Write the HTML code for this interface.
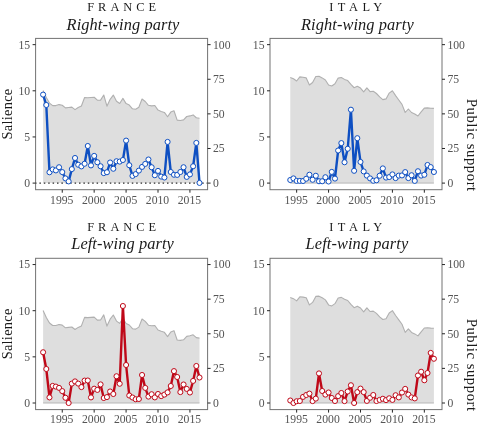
<!DOCTYPE html>
<html lang="en">
<head>
<meta charset="utf-8">
<title>Salience and public support</title>
<style>
html,body{margin:0;padding:0;background:#fff;}
body{width:480px;height:426px;overflow:hidden;font-family:"Liberation Serif",serif;}
svg{display:block;}
</style>
</head>
<body>
<svg width="480" height="426" viewBox="0 0 480 426" font-family="'Liberation Serif', serif">
<rect width="480" height="426" fill="#fff"/>
<g transform="translate(0,0)">
<polygon points="43.1,183.1 43.1,90.6 46.29,97.5 49.48,103.1 52.68,105.6 55.87,105.6 59.06,104.6 62.25,105.25 65.44,107.9 68.64,107.5 71.83,107.1 75.02,109.6 78.21,107.5 81.4,106 84.6,97.5 87.79,97.75 90.98,97.5 94.17,97.25 97.36,100.2 100.56,100.1 103.75,95 106.94,106.2 110.13,99.3 113.32,95.1 116.52,101.2 119.71,103.45 122.9,98.4 126.09,103.6 129.28,105.1 132.48,108.8 135.67,109.2 138.86,107.25 142.05,99.05 145.24,101.5 148.44,105.3 151.63,105.9 154.82,105.55 158.01,110.1 161.2,111.4 164.4,112.4 167.59,116.75 170.78,112.1 173.97,110.75 177.16,120.1 180.36,120.5 183.55,119.9 186.74,116.5 189.93,115.9 193.12,114.9 196.32,117.75 199.51,118.25 199.51,183.1" fill="#dedede"/>
<polyline points="43.1,90.6 46.29,97.5 49.48,103.1 52.68,105.6 55.87,105.6 59.06,104.6 62.25,105.25 65.44,107.9 68.64,107.5 71.83,107.1 75.02,109.6 78.21,107.5 81.4,106 84.6,97.5 87.79,97.75 90.98,97.5 94.17,97.25 97.36,100.2 100.56,100.1 103.75,95 106.94,106.2 110.13,99.3 113.32,95.1 116.52,101.2 119.71,103.45 122.9,98.4 126.09,103.6 129.28,105.1 132.48,108.8 135.67,109.2 138.86,107.25 142.05,99.05 145.24,101.5 148.44,105.3 151.63,105.9 154.82,105.55 158.01,110.1 161.2,111.4 164.4,112.4 167.59,116.75 170.78,112.1 173.97,110.75 177.16,120.1 180.36,120.5 183.55,119.9 186.74,116.5 189.93,115.9 193.12,114.9 196.32,117.75 199.51,118.25" fill="none" stroke="#b0b0b0" stroke-width="1.1" stroke-linejoin="round"/>
<line x1="35" x2="207.6" y1="183.1" y2="183.1" stroke="#2a2a2a" stroke-width="1.25" stroke-dasharray="1.5 2.9"/>
<polyline points="43.1,94.6 46.29,105 49.48,172.25 52.68,169.4 55.87,170.4 59.06,167.25 62.25,172.1 65.44,178.4 68.64,181.4 71.83,169.1 75.02,158 78.21,164.75 81.4,166.4 84.6,163.75 87.79,146 90.98,165.4 94.17,155.9 97.36,162.25 100.56,166.25 103.75,173.1 106.94,172.25 110.13,162.5 113.32,168.75 116.52,161.25 119.71,161.6 122.9,160 126.09,140.6 129.28,165.25 132.48,175.9 135.67,174.1 138.86,170.6 142.05,166.9 145.24,163.9 148.44,159.5 151.63,167.25 154.82,175.25 158.01,170.9 161.2,176.6 164.4,177.5 167.59,141.9 170.78,172 173.97,174.75 177.16,174.9 180.36,172 183.55,167.25 186.74,176.9 189.93,174.4 193.12,166.25 196.32,142.9 199.51,182.9" fill="none" stroke="#0e4fc2" stroke-width="2.4" stroke-linejoin="round" stroke-linecap="round"/>
<g fill="#fff" stroke="#0e4fc2" stroke-width="1">
<circle cx="43.1" cy="94.6" r="2.55"/>
<circle cx="46.29" cy="105" r="2.55"/>
<circle cx="49.48" cy="172.25" r="2.55"/>
<circle cx="52.68" cy="169.4" r="2.55"/>
<circle cx="55.87" cy="170.4" r="2.55"/>
<circle cx="59.06" cy="167.25" r="2.55"/>
<circle cx="62.25" cy="172.1" r="2.55"/>
<circle cx="65.44" cy="178.4" r="2.55"/>
<circle cx="68.64" cy="181.4" r="2.55"/>
<circle cx="71.83" cy="169.1" r="2.55"/>
<circle cx="75.02" cy="158" r="2.55"/>
<circle cx="78.21" cy="164.75" r="2.55"/>
<circle cx="81.4" cy="166.4" r="2.55"/>
<circle cx="84.6" cy="163.75" r="2.55"/>
<circle cx="87.79" cy="146" r="2.55"/>
<circle cx="90.98" cy="165.4" r="2.55"/>
<circle cx="94.17" cy="155.9" r="2.55"/>
<circle cx="97.36" cy="162.25" r="2.55"/>
<circle cx="100.56" cy="166.25" r="2.55"/>
<circle cx="103.75" cy="173.1" r="2.55"/>
<circle cx="106.94" cy="172.25" r="2.55"/>
<circle cx="110.13" cy="162.5" r="2.55"/>
<circle cx="113.32" cy="168.75" r="2.55"/>
<circle cx="116.52" cy="161.25" r="2.55"/>
<circle cx="119.71" cy="161.6" r="2.55"/>
<circle cx="122.9" cy="160" r="2.55"/>
<circle cx="126.09" cy="140.6" r="2.55"/>
<circle cx="129.28" cy="165.25" r="2.55"/>
<circle cx="132.48" cy="175.9" r="2.55"/>
<circle cx="135.67" cy="174.1" r="2.55"/>
<circle cx="138.86" cy="170.6" r="2.55"/>
<circle cx="142.05" cy="166.9" r="2.55"/>
<circle cx="145.24" cy="163.9" r="2.55"/>
<circle cx="148.44" cy="159.5" r="2.55"/>
<circle cx="151.63" cy="167.25" r="2.55"/>
<circle cx="154.82" cy="175.25" r="2.55"/>
<circle cx="158.01" cy="170.9" r="2.55"/>
<circle cx="161.2" cy="176.6" r="2.55"/>
<circle cx="164.4" cy="177.5" r="2.55"/>
<circle cx="167.59" cy="141.9" r="2.55"/>
<circle cx="170.78" cy="172" r="2.55"/>
<circle cx="173.97" cy="174.75" r="2.55"/>
<circle cx="177.16" cy="174.9" r="2.55"/>
<circle cx="180.36" cy="172" r="2.55"/>
<circle cx="183.55" cy="167.25" r="2.55"/>
<circle cx="186.74" cy="176.9" r="2.55"/>
<circle cx="189.93" cy="174.4" r="2.55"/>
<circle cx="193.12" cy="166.25" r="2.55"/>
<circle cx="196.32" cy="142.9" r="2.55"/>
<circle cx="199.51" cy="182.9" r="2.55"/>
</g>
<rect x="35.6" y="38.4" width="172" height="151.3" fill="none" stroke="#727272" stroke-width="1"/>
<g stroke="#262626" stroke-width="1">
<line x1="32.6" x2="35.6" y1="183.1" y2="183.1"/>
<line x1="32.6" x2="35.6" y1="136.95" y2="136.95"/>
<line x1="32.6" x2="35.6" y1="90.8" y2="90.8"/>
<line x1="32.6" x2="35.6" y1="44.65" y2="44.65"/>
<line x1="207.6" x2="210.6" y1="183.1" y2="183.1"/>
<line x1="207.6" x2="210.6" y1="148.49" y2="148.49"/>
<line x1="207.6" x2="210.6" y1="113.87" y2="113.87"/>
<line x1="207.6" x2="210.6" y1="79.26" y2="79.26"/>
<line x1="207.6" x2="210.6" y1="44.65" y2="44.65"/>
<line x1="62.25" x2="62.25" y1="189.7" y2="192.7"/>
<line x1="94.17" x2="94.17" y1="189.7" y2="192.7"/>
<line x1="126.09" x2="126.09" y1="189.7" y2="192.7"/>
<line x1="158.01" x2="158.01" y1="189.7" y2="192.7"/>
<line x1="189.93" x2="189.93" y1="189.7" y2="192.7"/>
</g>
<g fill="#555555" font-size="11.7">
<text x="30.1" y="187.05" text-anchor="end">0</text>
<text x="30.1" y="140.9" text-anchor="end">5</text>
<text x="30.1" y="94.75" text-anchor="end">10</text>
<text x="30.1" y="48.6" text-anchor="end">15</text>
<text x="213" y="187.05">0</text>
<text x="213" y="152.44">25</text>
<text x="213" y="117.82">50</text>
<text x="213" y="83.21">75</text>
<text x="213" y="48.6">100</text>
<text x="61.75" y="203.5" text-anchor="middle">1995</text>
<text x="93.67" y="203.5" text-anchor="middle">2000</text>
<text x="125.59" y="203.5" text-anchor="middle">2005</text>
<text x="157.51" y="203.5" text-anchor="middle">2010</text>
<text x="189.43" y="203.5" text-anchor="middle">2015</text>
</g>
<text x="87.2" y="10.8" font-size="12.4" fill="#1a1a1a" letter-spacing="4.02">FRANCE</text>
<text x="66.6" y="29.5" font-size="16.4" font-style="italic" fill="#1a1a1a" letter-spacing="0.08">Right-wing party</text>
<text transform="translate(12.4,139.4) rotate(-90)" font-size="14.4" fill="#1a1a1a" letter-spacing="0.26">Salience</text>
</g>
<g transform="translate(234.4,0)">
<polygon points="55.87,183.1 55.87,77.5 59.06,78.75 62.25,81 65.44,76.9 68.64,77.25 71.83,77.9 75.02,85 78.21,82.5 81.4,76.5 84.6,76.25 87.79,77.9 90.98,80 94.17,85 97.36,86 100.56,83.75 103.75,78.1 106.94,77.5 110.13,79.4 113.32,80.6 116.52,84.4 119.71,87.75 122.9,86.25 126.09,88.1 129.28,91.9 132.48,87.9 135.67,91.6 138.86,91.25 142.05,93.5 145.24,96.9 148.44,99.6 151.63,98.9 154.82,93.1 158.01,90.75 161.2,95.6 164.4,100 167.59,104.4 170.78,112.5 173.97,109 177.16,112.5 180.36,114 183.55,116 186.74,111.9 189.93,108.1 193.12,107.9 196.32,108.25 199.51,108.4 199.51,183.1" fill="#dedede"/>
<polyline points="55.87,77.5 59.06,78.75 62.25,81 65.44,76.9 68.64,77.25 71.83,77.9 75.02,85 78.21,82.5 81.4,76.5 84.6,76.25 87.79,77.9 90.98,80 94.17,85 97.36,86 100.56,83.75 103.75,78.1 106.94,77.5 110.13,79.4 113.32,80.6 116.52,84.4 119.71,87.75 122.9,86.25 126.09,88.1 129.28,91.9 132.48,87.9 135.67,91.6 138.86,91.25 142.05,93.5 145.24,96.9 148.44,99.6 151.63,98.9 154.82,93.1 158.01,90.75 161.2,95.6 164.4,100 167.59,104.4 170.78,112.5 173.97,109 177.16,112.5 180.36,114 183.55,116 186.74,111.9 189.93,108.1 193.12,107.9 196.32,108.25 199.51,108.4" fill="none" stroke="#b0b0b0" stroke-width="1.1" stroke-linejoin="round"/>
<line x1="55.87" x2="199.51" y1="183.1" y2="183.1" stroke="#b0b0b0" stroke-width="0.9"/>
<polyline points="55.87,180 59.06,178.4 62.25,180.9 65.44,180.9 68.64,181 71.83,178.75 75.02,174.75 78.21,179.75 81.4,175.75 84.6,181.25 87.79,181.25 90.98,177.25 94.17,181.5 97.36,171.9 100.56,178.6 103.75,150.5 106.94,143.1 110.13,162.25 113.32,148.75 116.52,109.7 119.71,170.8 122.9,138.2 126.09,161.95 129.28,171.4 132.48,175.6 135.67,178.4 138.86,180.75 142.05,180.25 145.24,175.75 148.44,168.4 151.63,177.6 154.82,177.05 158.01,174.4 161.2,178.1 164.4,175.6 167.59,175.4 170.78,172.1 173.97,178.1 177.16,175.25 180.36,180.9 183.55,171.25 186.74,175.6 189.93,174.75 193.12,165 196.32,167.1 199.51,172" fill="none" stroke="#0e4fc2" stroke-width="2.4" stroke-linejoin="round" stroke-linecap="round"/>
<g fill="#fff" stroke="#0e4fc2" stroke-width="1">
<circle cx="55.87" cy="180" r="2.55"/>
<circle cx="59.06" cy="178.4" r="2.55"/>
<circle cx="62.25" cy="180.9" r="2.55"/>
<circle cx="65.44" cy="180.9" r="2.55"/>
<circle cx="68.64" cy="181" r="2.55"/>
<circle cx="71.83" cy="178.75" r="2.55"/>
<circle cx="75.02" cy="174.75" r="2.55"/>
<circle cx="78.21" cy="179.75" r="2.55"/>
<circle cx="81.4" cy="175.75" r="2.55"/>
<circle cx="84.6" cy="181.25" r="2.55"/>
<circle cx="87.79" cy="181.25" r="2.55"/>
<circle cx="90.98" cy="177.25" r="2.55"/>
<circle cx="94.17" cy="181.5" r="2.55"/>
<circle cx="97.36" cy="171.9" r="2.55"/>
<circle cx="100.56" cy="178.6" r="2.55"/>
<circle cx="103.75" cy="150.5" r="2.55"/>
<circle cx="106.94" cy="143.1" r="2.55"/>
<circle cx="110.13" cy="162.25" r="2.55"/>
<circle cx="113.32" cy="148.75" r="2.55"/>
<circle cx="116.52" cy="109.7" r="2.55"/>
<circle cx="119.71" cy="170.8" r="2.55"/>
<circle cx="122.9" cy="138.2" r="2.55"/>
<circle cx="126.09" cy="161.95" r="2.55"/>
<circle cx="129.28" cy="171.4" r="2.55"/>
<circle cx="132.48" cy="175.6" r="2.55"/>
<circle cx="135.67" cy="178.4" r="2.55"/>
<circle cx="138.86" cy="180.75" r="2.55"/>
<circle cx="142.05" cy="180.25" r="2.55"/>
<circle cx="145.24" cy="175.75" r="2.55"/>
<circle cx="148.44" cy="168.4" r="2.55"/>
<circle cx="151.63" cy="177.6" r="2.55"/>
<circle cx="154.82" cy="177.05" r="2.55"/>
<circle cx="158.01" cy="174.4" r="2.55"/>
<circle cx="161.2" cy="178.1" r="2.55"/>
<circle cx="164.4" cy="175.6" r="2.55"/>
<circle cx="167.59" cy="175.4" r="2.55"/>
<circle cx="170.78" cy="172.1" r="2.55"/>
<circle cx="173.97" cy="178.1" r="2.55"/>
<circle cx="177.16" cy="175.25" r="2.55"/>
<circle cx="180.36" cy="180.9" r="2.55"/>
<circle cx="183.55" cy="171.25" r="2.55"/>
<circle cx="186.74" cy="175.6" r="2.55"/>
<circle cx="189.93" cy="174.75" r="2.55"/>
<circle cx="193.12" cy="165" r="2.55"/>
<circle cx="196.32" cy="167.1" r="2.55"/>
<circle cx="199.51" cy="172" r="2.55"/>
</g>
<rect x="35.6" y="38.4" width="172" height="151.3" fill="none" stroke="#727272" stroke-width="1"/>
<g stroke="#262626" stroke-width="1">
<line x1="32.6" x2="35.6" y1="183.1" y2="183.1"/>
<line x1="32.6" x2="35.6" y1="136.95" y2="136.95"/>
<line x1="32.6" x2="35.6" y1="90.8" y2="90.8"/>
<line x1="32.6" x2="35.6" y1="44.65" y2="44.65"/>
<line x1="207.6" x2="210.6" y1="183.1" y2="183.1"/>
<line x1="207.6" x2="210.6" y1="148.49" y2="148.49"/>
<line x1="207.6" x2="210.6" y1="113.87" y2="113.87"/>
<line x1="207.6" x2="210.6" y1="79.26" y2="79.26"/>
<line x1="207.6" x2="210.6" y1="44.65" y2="44.65"/>
<line x1="62.25" x2="62.25" y1="189.7" y2="192.7"/>
<line x1="94.17" x2="94.17" y1="189.7" y2="192.7"/>
<line x1="126.09" x2="126.09" y1="189.7" y2="192.7"/>
<line x1="158.01" x2="158.01" y1="189.7" y2="192.7"/>
<line x1="189.93" x2="189.93" y1="189.7" y2="192.7"/>
</g>
<g fill="#555555" font-size="11.7">
<text x="30.1" y="187.05" text-anchor="end">0</text>
<text x="30.1" y="140.9" text-anchor="end">5</text>
<text x="30.1" y="94.75" text-anchor="end">10</text>
<text x="30.1" y="48.6" text-anchor="end">15</text>
<text x="213" y="187.05">0</text>
<text x="213" y="152.44">25</text>
<text x="213" y="117.82">50</text>
<text x="213" y="83.21">75</text>
<text x="213" y="48.6">100</text>
<text x="61.75" y="203.5" text-anchor="middle">1995</text>
<text x="93.67" y="203.5" text-anchor="middle">2000</text>
<text x="125.59" y="203.5" text-anchor="middle">2005</text>
<text x="157.51" y="203.5" text-anchor="middle">2010</text>
<text x="189.43" y="203.5" text-anchor="middle">2015</text>
</g>
<text x="94.8" y="10.8" font-size="12.4" fill="#1a1a1a" letter-spacing="4.54">ITALY</text>
<text x="66.6" y="29.5" font-size="16.4" font-style="italic" fill="#1a1a1a" letter-spacing="0.08">Right-wing party</text>
<text transform="translate(232.8,98.8) rotate(90)" font-size="14.8" fill="#1a1a1a" letter-spacing="0.5">Public support</text>
</g>
<g transform="translate(0,219.9)">
<polygon points="43.1,183.1 43.1,90.6 46.29,97.5 49.48,103.1 52.68,105.6 55.87,105.6 59.06,104.6 62.25,105.25 65.44,107.9 68.64,107.5 71.83,107.1 75.02,109.6 78.21,107.5 81.4,106 84.6,97.5 87.79,97.75 90.98,97.5 94.17,97.25 97.36,100.2 100.56,100.1 103.75,95 106.94,106.2 110.13,99.3 113.32,95.1 116.52,101.2 119.71,103.45 122.9,98.4 126.09,103.6 129.28,105.1 132.48,108.8 135.67,109.2 138.86,107.25 142.05,99.05 145.24,101.5 148.44,105.3 151.63,105.9 154.82,105.55 158.01,110.1 161.2,111.4 164.4,112.4 167.59,116.75 170.78,112.1 173.97,110.75 177.16,120.1 180.36,120.5 183.55,119.9 186.74,116.5 189.93,115.9 193.12,114.9 196.32,117.75 199.51,118.25 199.51,183.1" fill="#dedede"/>
<polyline points="43.1,90.6 46.29,97.5 49.48,103.1 52.68,105.6 55.87,105.6 59.06,104.6 62.25,105.25 65.44,107.9 68.64,107.5 71.83,107.1 75.02,109.6 78.21,107.5 81.4,106 84.6,97.5 87.79,97.75 90.98,97.5 94.17,97.25 97.36,100.2 100.56,100.1 103.75,95 106.94,106.2 110.13,99.3 113.32,95.1 116.52,101.2 119.71,103.45 122.9,98.4 126.09,103.6 129.28,105.1 132.48,108.8 135.67,109.2 138.86,107.25 142.05,99.05 145.24,101.5 148.44,105.3 151.63,105.9 154.82,105.55 158.01,110.1 161.2,111.4 164.4,112.4 167.59,116.75 170.78,112.1 173.97,110.75 177.16,120.1 180.36,120.5 183.55,119.9 186.74,116.5 189.93,115.9 193.12,114.9 196.32,117.75 199.51,118.25" fill="none" stroke="#b0b0b0" stroke-width="1.1" stroke-linejoin="round"/>
<line x1="43.1" x2="199.51" y1="183.1" y2="183.1" stroke="#b0b0b0" stroke-width="0.9"/>
<polyline points="43.1,132.35 46.29,149.1 49.48,177.5 52.68,166 55.87,166.7 59.06,168 62.25,171.2 65.44,177.85 68.64,183.1 71.83,163.7 75.02,161.5 78.21,163.7 81.4,167.2 84.6,160.7 87.79,160.6 90.98,177.5 94.17,168.8 97.36,170 100.56,164.5 103.75,178.1 106.94,177.2 110.13,171.6 113.32,174.1 116.52,156.35 119.71,163.85 122.9,86.1 126.09,145.1 129.28,175.6 132.48,177.6 135.67,179.35 138.86,179.1 142.05,155.1 145.24,168 148.44,176.7 151.63,174.35 154.82,177.5 158.01,174.1 161.2,176.2 164.4,174.7 167.59,172.5 170.78,166.1 173.97,151.2 177.16,157.1 180.36,172.2 183.55,164.6 186.74,169 189.93,172.6 193.12,161 196.32,146.1 199.51,157.6" fill="none" stroke="#bf0818" stroke-width="2.4" stroke-linejoin="round" stroke-linecap="round"/>
<g fill="#fff" stroke="#bf0818" stroke-width="1">
<circle cx="43.1" cy="132.35" r="2.55"/>
<circle cx="46.29" cy="149.1" r="2.55"/>
<circle cx="49.48" cy="177.5" r="2.55"/>
<circle cx="52.68" cy="166" r="2.55"/>
<circle cx="55.87" cy="166.7" r="2.55"/>
<circle cx="59.06" cy="168" r="2.55"/>
<circle cx="62.25" cy="171.2" r="2.55"/>
<circle cx="65.44" cy="177.85" r="2.55"/>
<circle cx="68.64" cy="183.1" r="2.55"/>
<circle cx="71.83" cy="163.7" r="2.55"/>
<circle cx="75.02" cy="161.5" r="2.55"/>
<circle cx="78.21" cy="163.7" r="2.55"/>
<circle cx="81.4" cy="167.2" r="2.55"/>
<circle cx="84.6" cy="160.7" r="2.55"/>
<circle cx="87.79" cy="160.6" r="2.55"/>
<circle cx="90.98" cy="177.5" r="2.55"/>
<circle cx="94.17" cy="168.8" r="2.55"/>
<circle cx="97.36" cy="170" r="2.55"/>
<circle cx="100.56" cy="164.5" r="2.55"/>
<circle cx="103.75" cy="178.1" r="2.55"/>
<circle cx="106.94" cy="177.2" r="2.55"/>
<circle cx="110.13" cy="171.6" r="2.55"/>
<circle cx="113.32" cy="174.1" r="2.55"/>
<circle cx="116.52" cy="156.35" r="2.55"/>
<circle cx="119.71" cy="163.85" r="2.55"/>
<circle cx="122.9" cy="86.1" r="2.55"/>
<circle cx="126.09" cy="145.1" r="2.55"/>
<circle cx="129.28" cy="175.6" r="2.55"/>
<circle cx="132.48" cy="177.6" r="2.55"/>
<circle cx="135.67" cy="179.35" r="2.55"/>
<circle cx="138.86" cy="179.1" r="2.55"/>
<circle cx="142.05" cy="155.1" r="2.55"/>
<circle cx="145.24" cy="168" r="2.55"/>
<circle cx="148.44" cy="176.7" r="2.55"/>
<circle cx="151.63" cy="174.35" r="2.55"/>
<circle cx="154.82" cy="177.5" r="2.55"/>
<circle cx="158.01" cy="174.1" r="2.55"/>
<circle cx="161.2" cy="176.2" r="2.55"/>
<circle cx="164.4" cy="174.7" r="2.55"/>
<circle cx="167.59" cy="172.5" r="2.55"/>
<circle cx="170.78" cy="166.1" r="2.55"/>
<circle cx="173.97" cy="151.2" r="2.55"/>
<circle cx="177.16" cy="157.1" r="2.55"/>
<circle cx="180.36" cy="172.2" r="2.55"/>
<circle cx="183.55" cy="164.6" r="2.55"/>
<circle cx="186.74" cy="169" r="2.55"/>
<circle cx="189.93" cy="172.6" r="2.55"/>
<circle cx="193.12" cy="161" r="2.55"/>
<circle cx="196.32" cy="146.1" r="2.55"/>
<circle cx="199.51" cy="157.6" r="2.55"/>
</g>
<rect x="35.6" y="38.4" width="172" height="151.3" fill="none" stroke="#727272" stroke-width="1"/>
<g stroke="#262626" stroke-width="1">
<line x1="32.6" x2="35.6" y1="183.1" y2="183.1"/>
<line x1="32.6" x2="35.6" y1="136.95" y2="136.95"/>
<line x1="32.6" x2="35.6" y1="90.8" y2="90.8"/>
<line x1="32.6" x2="35.6" y1="44.65" y2="44.65"/>
<line x1="207.6" x2="210.6" y1="183.1" y2="183.1"/>
<line x1="207.6" x2="210.6" y1="148.49" y2="148.49"/>
<line x1="207.6" x2="210.6" y1="113.87" y2="113.87"/>
<line x1="207.6" x2="210.6" y1="79.26" y2="79.26"/>
<line x1="207.6" x2="210.6" y1="44.65" y2="44.65"/>
<line x1="62.25" x2="62.25" y1="189.7" y2="192.7"/>
<line x1="94.17" x2="94.17" y1="189.7" y2="192.7"/>
<line x1="126.09" x2="126.09" y1="189.7" y2="192.7"/>
<line x1="158.01" x2="158.01" y1="189.7" y2="192.7"/>
<line x1="189.93" x2="189.93" y1="189.7" y2="192.7"/>
</g>
<g fill="#555555" font-size="11.7">
<text x="30.1" y="187.05" text-anchor="end">0</text>
<text x="30.1" y="140.9" text-anchor="end">5</text>
<text x="30.1" y="94.75" text-anchor="end">10</text>
<text x="30.1" y="48.6" text-anchor="end">15</text>
<text x="213" y="187.05">0</text>
<text x="213" y="152.44">25</text>
<text x="213" y="117.82">50</text>
<text x="213" y="83.21">75</text>
<text x="213" y="48.6">100</text>
<text x="61.75" y="203.5" text-anchor="middle">1995</text>
<text x="93.67" y="203.5" text-anchor="middle">2000</text>
<text x="125.59" y="203.5" text-anchor="middle">2005</text>
<text x="157.51" y="203.5" text-anchor="middle">2010</text>
<text x="189.43" y="203.5" text-anchor="middle">2015</text>
</g>
<text x="87.2" y="10.8" font-size="12.4" fill="#1a1a1a" letter-spacing="4.02">FRANCE</text>
<text x="71.2" y="29.5" font-size="16.4" font-style="italic" fill="#1a1a1a" letter-spacing="0.08">Left-wing party</text>
<text transform="translate(12.4,139.4) rotate(-90)" font-size="14.4" fill="#1a1a1a" letter-spacing="0.26">Salience</text>
</g>
<g transform="translate(234.4,219.9)">
<polygon points="55.87,183.1 55.87,77.5 59.06,78.75 62.25,81 65.44,76.9 68.64,77.25 71.83,77.9 75.02,85 78.21,82.5 81.4,76.5 84.6,76.25 87.79,77.9 90.98,80 94.17,85 97.36,86 100.56,83.75 103.75,78.1 106.94,77.5 110.13,79.4 113.32,80.6 116.52,84.4 119.71,87.75 122.9,86.25 126.09,88.1 129.28,91.9 132.48,87.9 135.67,91.6 138.86,91.25 142.05,93.5 145.24,96.9 148.44,99.6 151.63,98.9 154.82,93.1 158.01,90.75 161.2,95.6 164.4,100 167.59,104.4 170.78,112.5 173.97,109 177.16,112.5 180.36,114 183.55,116 186.74,111.9 189.93,108.1 193.12,107.9 196.32,108.25 199.51,108.4 199.51,183.1" fill="#dedede"/>
<polyline points="55.87,77.5 59.06,78.75 62.25,81 65.44,76.9 68.64,77.25 71.83,77.9 75.02,85 78.21,82.5 81.4,76.5 84.6,76.25 87.79,77.9 90.98,80 94.17,85 97.36,86 100.56,83.75 103.75,78.1 106.94,77.5 110.13,79.4 113.32,80.6 116.52,84.4 119.71,87.75 122.9,86.25 126.09,88.1 129.28,91.9 132.48,87.9 135.67,91.6 138.86,91.25 142.05,93.5 145.24,96.9 148.44,99.6 151.63,98.9 154.82,93.1 158.01,90.75 161.2,95.6 164.4,100 167.59,104.4 170.78,112.5 173.97,109 177.16,112.5 180.36,114 183.55,116 186.74,111.9 189.93,108.1 193.12,107.9 196.32,108.25 199.51,108.4" fill="none" stroke="#b0b0b0" stroke-width="1.1" stroke-linejoin="round"/>
<line x1="55.87" x2="199.51" y1="183.1" y2="183.1" stroke="#b0b0b0" stroke-width="0.9"/>
<polyline points="55.87,180.6 59.06,183.1 62.25,181.35 65.44,181.1 68.64,177 71.83,175.1 75.02,173.7 78.21,181.2 81.4,178.7 84.6,153.5 87.79,171.1 90.98,174.7 94.17,172.6 97.36,178.1 100.56,181.1 103.75,176.2 106.94,173.1 110.13,181.2 113.32,171.6 116.52,165.35 119.71,183.1 122.9,172.2 126.09,168.7 129.28,172.2 132.48,181 135.67,177.85 138.86,175.1 142.05,181.1 145.24,180 148.44,178.85 151.63,180.2 154.82,178.4 158.01,180 161.2,175.35 164.4,177.5 167.59,172.6 170.78,169 173.97,174.7 177.16,177.5 180.36,178.5 183.55,155.6 186.74,151.85 189.93,160.35 193.12,153.1 196.32,133 199.51,138.85" fill="none" stroke="#bf0818" stroke-width="2.4" stroke-linejoin="round" stroke-linecap="round"/>
<g fill="#fff" stroke="#bf0818" stroke-width="1">
<circle cx="55.87" cy="180.6" r="2.55"/>
<circle cx="59.06" cy="183.1" r="2.55"/>
<circle cx="62.25" cy="181.35" r="2.55"/>
<circle cx="65.44" cy="181.1" r="2.55"/>
<circle cx="68.64" cy="177" r="2.55"/>
<circle cx="71.83" cy="175.1" r="2.55"/>
<circle cx="75.02" cy="173.7" r="2.55"/>
<circle cx="78.21" cy="181.2" r="2.55"/>
<circle cx="81.4" cy="178.7" r="2.55"/>
<circle cx="84.6" cy="153.5" r="2.55"/>
<circle cx="87.79" cy="171.1" r="2.55"/>
<circle cx="90.98" cy="174.7" r="2.55"/>
<circle cx="94.17" cy="172.6" r="2.55"/>
<circle cx="97.36" cy="178.1" r="2.55"/>
<circle cx="100.56" cy="181.1" r="2.55"/>
<circle cx="103.75" cy="176.2" r="2.55"/>
<circle cx="106.94" cy="173.1" r="2.55"/>
<circle cx="110.13" cy="181.2" r="2.55"/>
<circle cx="113.32" cy="171.6" r="2.55"/>
<circle cx="116.52" cy="165.35" r="2.55"/>
<circle cx="119.71" cy="183.1" r="2.55"/>
<circle cx="122.9" cy="172.2" r="2.55"/>
<circle cx="126.09" cy="168.7" r="2.55"/>
<circle cx="129.28" cy="172.2" r="2.55"/>
<circle cx="132.48" cy="181" r="2.55"/>
<circle cx="135.67" cy="177.85" r="2.55"/>
<circle cx="138.86" cy="175.1" r="2.55"/>
<circle cx="142.05" cy="181.1" r="2.55"/>
<circle cx="145.24" cy="180" r="2.55"/>
<circle cx="148.44" cy="178.85" r="2.55"/>
<circle cx="151.63" cy="180.2" r="2.55"/>
<circle cx="154.82" cy="178.4" r="2.55"/>
<circle cx="158.01" cy="180" r="2.55"/>
<circle cx="161.2" cy="175.35" r="2.55"/>
<circle cx="164.4" cy="177.5" r="2.55"/>
<circle cx="167.59" cy="172.6" r="2.55"/>
<circle cx="170.78" cy="169" r="2.55"/>
<circle cx="173.97" cy="174.7" r="2.55"/>
<circle cx="177.16" cy="177.5" r="2.55"/>
<circle cx="180.36" cy="178.5" r="2.55"/>
<circle cx="183.55" cy="155.6" r="2.55"/>
<circle cx="186.74" cy="151.85" r="2.55"/>
<circle cx="189.93" cy="160.35" r="2.55"/>
<circle cx="193.12" cy="153.1" r="2.55"/>
<circle cx="196.32" cy="133" r="2.55"/>
<circle cx="199.51" cy="138.85" r="2.55"/>
</g>
<rect x="35.6" y="38.4" width="172" height="151.3" fill="none" stroke="#727272" stroke-width="1"/>
<g stroke="#262626" stroke-width="1">
<line x1="32.6" x2="35.6" y1="183.1" y2="183.1"/>
<line x1="32.6" x2="35.6" y1="136.95" y2="136.95"/>
<line x1="32.6" x2="35.6" y1="90.8" y2="90.8"/>
<line x1="32.6" x2="35.6" y1="44.65" y2="44.65"/>
<line x1="207.6" x2="210.6" y1="183.1" y2="183.1"/>
<line x1="207.6" x2="210.6" y1="148.49" y2="148.49"/>
<line x1="207.6" x2="210.6" y1="113.87" y2="113.87"/>
<line x1="207.6" x2="210.6" y1="79.26" y2="79.26"/>
<line x1="207.6" x2="210.6" y1="44.65" y2="44.65"/>
<line x1="62.25" x2="62.25" y1="189.7" y2="192.7"/>
<line x1="94.17" x2="94.17" y1="189.7" y2="192.7"/>
<line x1="126.09" x2="126.09" y1="189.7" y2="192.7"/>
<line x1="158.01" x2="158.01" y1="189.7" y2="192.7"/>
<line x1="189.93" x2="189.93" y1="189.7" y2="192.7"/>
</g>
<g fill="#555555" font-size="11.7">
<text x="30.1" y="187.05" text-anchor="end">0</text>
<text x="30.1" y="140.9" text-anchor="end">5</text>
<text x="30.1" y="94.75" text-anchor="end">10</text>
<text x="30.1" y="48.6" text-anchor="end">15</text>
<text x="213" y="187.05">0</text>
<text x="213" y="152.44">25</text>
<text x="213" y="117.82">50</text>
<text x="213" y="83.21">75</text>
<text x="213" y="48.6">100</text>
<text x="61.75" y="203.5" text-anchor="middle">1995</text>
<text x="93.67" y="203.5" text-anchor="middle">2000</text>
<text x="125.59" y="203.5" text-anchor="middle">2005</text>
<text x="157.51" y="203.5" text-anchor="middle">2010</text>
<text x="189.43" y="203.5" text-anchor="middle">2015</text>
</g>
<text x="94.8" y="10.8" font-size="12.4" fill="#1a1a1a" letter-spacing="4.54">ITALY</text>
<text x="71.2" y="29.5" font-size="16.4" font-style="italic" fill="#1a1a1a" letter-spacing="0.08">Left-wing party</text>
<text transform="translate(232.8,98.8) rotate(90)" font-size="14.8" fill="#1a1a1a" letter-spacing="0.5">Public support</text>
</g>
</svg>
</body>
</html>
